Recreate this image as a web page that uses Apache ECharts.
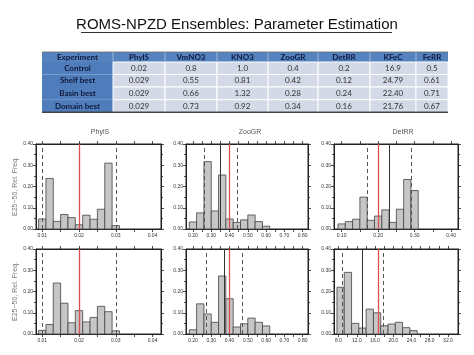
<!DOCTYPE html>
<html><head><meta charset="utf-8">
<script src="https://cdn.jsdelivr.net/npm/echarts@6.0.0/dist/echarts.min.js"></script>
<style>html,body{margin:0;padding:0;background:#fff}#c{width:474px;height:355px}</style>
</head><body><div id="c"></div><script>
// ---------- text ----------
const mainTitle = 'ROMS-NPZD Ensembles: Parameter Estimation';
const tableHeader = ['Experiment','PhylS','VmNO3','KNO3','ZooGR','DetRR','KFeC','FeRR'];
const tableRows = ['Control','Shelf best','Basin best','Domain best'];
const controlRow = ['0.02','0.8','1.0','0.4','0.2','16.9','0.5'];
const shelfRow = ['0.029','0.55','0.81','0.42','0.12','24.79','0.61'];
const basinRow = ['0.029','0.66','1.32','0.28','0.24','22.40','0.71'];
const domainRow = ['0.029','0.73','0.92','0.34','0.16','21.76','0.67'];
const panelTitles = ['PhylS','ZooGR','DetRR'];
const yAxisName = 'E25\u221250, Rel. Freq.';

// ---------- histograms ----------
const phylsBins = [0.010,0.012,0.014,0.016,0.018,0.020,0.022,0.024,0.026,0.028,0.030];
const phylsTopFreq = [0.047,0.238,0.036,0.068,0.054,0.020,0.065,0.046,0.093,0.310,0.016];
const phylsBotFreq = [0.017,0.045,0.240,0.145,0.053,0.110,0.057,0.078,0.130,0.105,0.015];
const zoogrBins = [0.20,0.24,0.28,0.32,0.36,0.40,0.44,0.48,0.52,0.56,0.60];
const zoogrTopFreq = [0.033,0.076,0.317,0.085,0.254,0.047,0.031,0.043,0.066,0.035,0.013];
const zoogrBotFreq = [0.020,0.142,0.094,0.055,0.273,0.166,0.033,0.048,0.075,0.055,0.038];
const detrrBins = [0.10,0.12,0.14,0.16,0.18,0.20,0.22,0.24,0.26,0.28,0.30];
const detrrTopFreq = [0.024,0.035,0.046,0.150,0.041,0.061,0.090,0.031,0.093,0.233,0.181];
const kfecBins = [8.45,10.05,11.65,13.25,14.85,16.45,18.05,19.65,21.25,22.85,24.45];
const kfecBotFreq = [0.220,0.290,0.050,0.028,0.117,0.100,0.039,0.047,0.055,0.030,0.016];

// vertical reference lines: dashed bounds, solid best, red control
const phylsTopDashed = [0.0144,0.0281]; const phylsTopBest = [0.0203]; const phylsTopCtl = [0.0200];
const phylsBotDashed = [0.0144,0.0252]; const phylsBotBest = [0.0194]; const phylsBotCtl = [0.0201];
const zoogrTopDashed = [0.255,0.444];  const zoogrTopBest = [0.347];  const zoogrTopCtl = [0.398];
const zoogrBotDashed = [0.269,0.472];  const zoogrBotBest = [0.369];  const zoogrBotCtl = [0.396];
const detrrTopDashed = [0.170,0.290];  const detrrTopBest = [0.230];  const detrrTopCtl = [0.200];
const kfecBotDashed = [8.8,17.7];      const kfecBotBest = [13.2];    const kfecBotCtl = [16.8];

// axis ticks
const phylsTicks = [0.01,0.015,0.02,0.025,0.03,0.035,0.04];
const phylsLabels = [0.01,0.02,0.03,0.04];
const zoogrTicks = [0.2,0.25,0.3,0.35,0.4,0.45,0.5,0.55,0.6,0.65,0.7,0.75,0.8];
const zoogrLabels = [0.2,0.3,0.4,0.5,0.6,0.7,0.8];
const detrrTicks = [0.1,0.15,0.2,0.25,0.3,0.35,0.4];
const detrrLabels = [0.1,0.2,0.3,0.4];
const kfecTicks = [8,10,12,14,16,18,20,22,24,26,28,30,32];
const kfecLabels = [8,12,16,20,24,28,32];

const panels = [
  {grid:[36,144,125,85], min:0.0083, max:0.0423, bins:phylsBins, freq:phylsTopFreq, w:0.002, dashed:phylsTopDashed, best:phylsTopBest, ctl:phylsTopCtl, ticks:phylsTicks, labels:phylsLabels, dec:2, ylab:true},
  {grid:[186,144,122,85], min:0.162, max:0.829, bins:zoogrBins, freq:zoogrTopFreq, w:0.04, dashed:zoogrTopDashed, best:zoogrTopBest, ctl:zoogrTopCtl, ticks:zoogrTicks, labels:zoogrLabels, dec:2},
  {grid:[334,144,124,85], min:0.079, max:0.419, bins:detrrBins, freq:detrrTopFreq, w:0.02, dashed:detrrTopDashed, best:detrrTopBest, ctl:detrrTopCtl, ticks:detrrTicks, labels:detrrLabels, dec:2},
  {grid:[36,249,125,85], min:0.0083, max:0.0423, bins:phylsBins, freq:phylsBotFreq, w:0.002, dashed:phylsBotDashed, best:phylsBotBest, ctl:phylsBotCtl, ticks:phylsTicks, labels:phylsLabels, dec:2, ylab:true},
  {grid:[186,249,122,85], min:0.162, max:0.829, bins:zoogrBins, freq:zoogrBotFreq, w:0.04, dashed:zoogrBotDashed, best:zoogrBotBest, ctl:zoogrBotCtl, ticks:zoogrTicks, labels:zoogrLabels, dec:2},
  {grid:[334,249,124,85], min:7.0, max:34.2, bins:kfecBins, freq:kfecBotFreq, w:1.6, dashed:kfecBotDashed, best:kfecBotBest, ctl:kfecBotCtl, ticks:kfecTicks, labels:kfecLabels, dec:1},
];

const FONT = 'Liberation Sans';
const grids=[], xAxes=[], yAxes=[], series=[];
panels.forEach((p,i)=>{
  grids.push({left:p.grid[0], top:p.grid[1], width:p.grid[2], height:p.grid[3], show:true, borderColor:'#222', borderWidth:1, backgroundColor:'transparent'});
  const tickStyle = {show:true, length:3, lineStyle:{color:'#222', width:0.8}, customValues:p.ticks};
  xAxes.push({type:'value', gridIndex:i, min:p.min, max:p.max, position:'bottom',
    axisLine:{show:true, onZero:false, lineStyle:{color:'#222', width:1}},
    axisTick:tickStyle, splitLine:{show:false},
    axisLabel:{show:true, customValues:p.labels, fontSize:5, color:'#333', fontFamily:FONT, margin:4, formatter:v=>v.toFixed(p.dec)}});
  xAxes.push({type:'value', gridIndex:i, min:p.min, max:p.max, position:'top',
    axisLine:{show:true, onZero:false, lineStyle:{color:'#222', width:1}},
    axisTick:tickStyle, splitLine:{show:false}, axisLabel:{show:false}});
  yAxes.push({type:'value', gridIndex:i, min:0, max:0.4, interval:0.1, position:'left',
    axisLine:{show:true, onZero:false, lineStyle:{color:'#222', width:1}},
    axisTick:{show:true, length:3, lineStyle:{color:'#222', width:0.8}},
    minorTick:{show:true, splitNumber:2, length:2, lineStyle:{color:'#222', width:0.8}},
    splitLine:{show:false},
    axisLabel:{fontSize:5, color:'#333', fontFamily:FONT, margin:3, formatter:v=>v.toFixed(2)},
    name: p.ylab ? yAxisName : '', nameLocation:'middle', nameGap:17, nameRotate:90,
    nameTextStyle:{fontSize:7, color:'#777', fontFamily:FONT}});
  yAxes.push({type:'value', gridIndex:i, min:0, max:0.4, interval:0.1, position:'right',
    axisLine:{show:true, onZero:false, lineStyle:{color:'#222', width:1}},
    axisTick:{show:true, length:3, lineStyle:{color:'#222', width:0.8}},
    minorTick:{show:true, splitNumber:2, length:2, lineStyle:{color:'#222', width:0.8}},
    splitLine:{show:false}, axisLabel:{show:false}});
  const w = p.w;
  const mlData = [];
  p.dashed.forEach(v=>mlData.push({xAxis:v, lineStyle:{color:'#555', width:1, type:[4,3]}}));
  p.best.forEach(v=>mlData.push({xAxis:v, lineStyle:{color:'#333', width:1, type:'solid'}}));
  p.ctl.forEach(v=>mlData.push({xAxis:v, lineStyle:{color:'#d85050', width:1.3, type:'solid'}}));
  series.push({type:'custom', xAxisIndex:2*i, yAxisIndex:2*i, silent:true,
    data:p.bins.map((b,k)=>[b,p.freq[k]]),
    renderItem:(params,api)=>{
      const c=api.value(0), v=api.value(1);
      const a=api.coord([c-w/2,v]), b=api.coord([c+w/2,0]);
      return {type:'rect', shape:{x:a[0], y:a[1], width:b[0]-a[0], height:b[1]-a[1]},
        style:{fill:'#c6c6c6', stroke:'#444', lineWidth:0.8}};
    },
    markLine:{silent:true, symbol:'none', label:{show:false}, animation:false, data:mlData}
  });
});

// ---------- title + table graphics ----------
const colEdges = [42,113,165,217,268,318,370,416,448];
const rowEdges = [52,62,74.5,87,99.7,112.3];
const tableValues = [controlRow, shelfRow, basinRow, domainRow];
const graphics = [];
graphics.push({type:'text', left:'center', top:17, style:{text:mainTitle, font:'15px "Liberation Sans"', fill:'#111'}});
graphics.push({type:'line', shape:{x1:81, y1:32.5, x2:392, y2:32.5}, style:{stroke:'#333', lineWidth:1}});
for(let r=0;r<rowEdges.length-1;r++){
  for(let c=0;c<colEdges.length-1;c++){
    let fill;
    if(r===0) fill='#5483c0'; else if(c===0) fill='#4f7dbb'; else fill='#d3d9e7';
    graphics.push({type:'rect', shape:{x:colEdges[c], y:rowEdges[r], width:colEdges[c+1]-colEdges[c], height:rowEdges[r+1]-rowEdges[r]},
      style:{fill:fill, stroke:(r===0||c===0)?'#5483c0':'#fff', lineWidth:(r===0||c===0)?0:1}});
    const txt = r===0 ? tableHeader[c] : (c===0 ? tableRows[r-1] : tableValues[r-1][c-1]);
    const bold = (r===0||c===0);
    graphics.push({type:'text', x:(colEdges[c]+colEdges[c+1])/2, y:(rowEdges[r]+rowEdges[r+1])/2,
      style:{text:txt, font:(bold?'bold ':'')+'8px Lato', fill:bold?'#10183a':'#333', align:'center', verticalAlign:'middle'}});
  }
}
// header column separators
for(let c=1;c<colEdges.length-1;c++){
  graphics.push({type:'line', shape:{x1:colEdges[c], y1:rowEdges[0], x2:colEdges[c], y2:rowEdges[1]}, style:{stroke:'#9fb6da', lineWidth:1}});
}
graphics.push({type:'line', shape:{x1:colEdges[0], y1:rowEdges[0], x2:colEdges[8], y2:rowEdges[0]}, style:{stroke:'#6a6a6a', lineWidth:0.8}});
graphics.push({type:'line', shape:{x1:colEdges[0], y1:rowEdges[5], x2:colEdges[8], y2:rowEdges[5]}, style:{stroke:'#444', lineWidth:1.5}});

const titles = panelTitles.map((t,i)=>({text:t, left:[95,245,398][i], top:124, textAlign:'center',
  textStyle:{fontSize:7, fontWeight:'normal', color:'#555', fontFamily:FONT}}));

const chart = echarts.init(document.getElementById('c'), null, {renderer:'canvas'});
chart.setOption({animation:false, title:titles, grid:grids, xAxis:xAxes, yAxis:yAxes, series:series, graphic:graphics});
</script></body></html>
